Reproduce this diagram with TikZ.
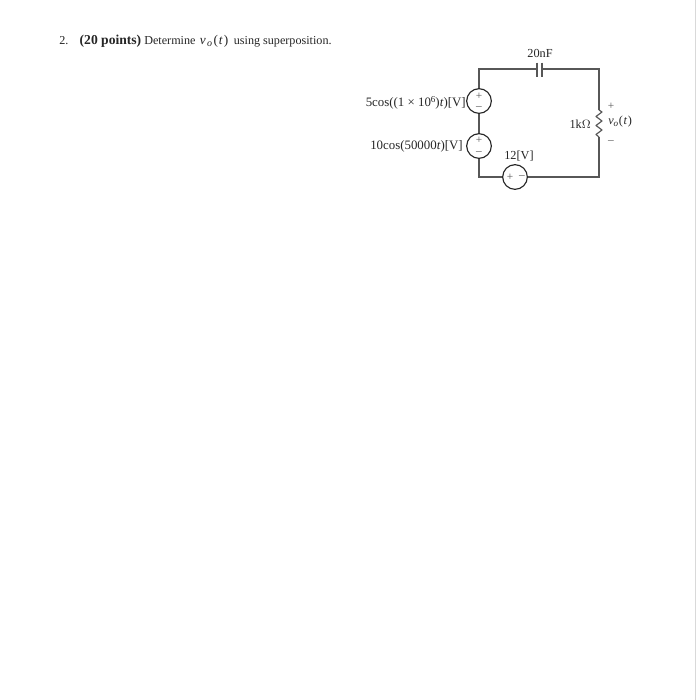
\documentclass[tikz,border=0pt]{standalone}
\usepackage{fontspec}
\setmainfont{Liberation Serif}
\definecolor{wire}{gray}{0.34}
\definecolor{txt}{gray}{0.15}
\newcommand{\mv}[1]{\textit{#1}}
\begin{document}
\begin{tikzpicture}[x=0.75pt,y=-0.75pt,
  wireline/.style={draw=wire,line width=0.85pt},
  source/.style={circle,draw=txt,line width=0.85pt,minimum size=18.5pt,inner sep=0pt,fill=white},
  label/.style={text=txt,inner sep=0pt,font=\fontsize{9.2pt}{11pt}\selectfont},
  longlabel/.style={label,font=\fontsize{9.65pt}{11pt}\selectfont},
  qtext/.style={text=txt,inner sep=0pt,font=\fontsize{9.1pt}{11pt}\selectfont},
  sign/.style={text=wire,inner sep=0pt,font=\fontsize{8.5pt}{9pt}\selectfont}]
\useasboundingbox (0,0) rectangle (696,700);
\fill[white] (0,0) rectangle (696,700);
\draw[gray!30,line width=0.5pt] (695,0) -- (695,700);
\node[qtext,anchor=base west] (q) at (59,44) {2.\hspace{8.5pt}{\fontsize{10.2pt}{11pt}\selectfont\textbf{(20 points)}} Determine \hspace{1pt}{\fontsize{10pt}{11pt}\selectfont\mv{v}\hspace{1pt}\raisebox{-1.5pt}{\fontsize{7.5pt}{8pt}\selectfont\mv{o}}\hspace{1.2pt}(\hspace{0.6pt}\mv{t}\hspace{0.6pt})}\hspace{2pt} using superposition.};
\coordinate (tl) at (479,69);
\coordinate (tr) at (599,69);
\coordinate (br) at (599,177);
\coordinate (bl) at (479,177);
\coordinate (c1) at (537,69);
\coordinate (c2) at (542,69);
\coordinate (r1) at (599,110);
\coordinate (r2) at (599,137);
\node[source] (s1) at (479,101) {};
\node[source] (s2) at (479,146) {};
\node[source] (s3) at (515,177) {};
\draw[wireline] (s1) -- (tl) -- (c1);
\draw[wireline] (c2) -- (tr) -- (r1);
\draw[wireline] (r2) -- (br) -- (s3);
\draw[wireline] (s3) -- (bl) -- (s2);
\draw[wireline] (s1) -- (s2);
\draw[wireline] (537,62.5) -- (537,77) (542,62.5) -- (542,77);
\draw[wireline,line join=round] (r1) -- (602,112) -- (596,116.5) -- (602,121) -- (596,125.5) -- (602,130) -- (596,134.5) -- (r2);
\node[sign] at (479,96) {+};
\node[sign] at (479,108.5) {–};
\node[sign] at (479,140.5) {+};
\node[sign] at (479,153) {–};
\node[sign] at (510,177) {+};
\node[sign] at (522,177.5) {–};
\node[sign] at (611,106) {+};
\node[sign] at (611,142) {–};
\node[label] (cl) at (540,53) {20nF};
\node[longlabel,anchor=east] (a) at (466,103) {5cos((1 × 10\raisebox{3pt}{\fontsize{6.8pt}{7pt}\selectfont 6})\mv{t})[V]};
\node[longlabel,anchor=east] (b) at (463,146) {10cos(50000\mv{t})[V]};
\node[label] (c) at (519,156) {12[V]};
\node[label,anchor=east] (d) at (591,124) {1k$\Omega$};
\node[label,anchor=west] (e) at (608,122) {\mv{v}\raisebox{-1.5pt}{\fontsize{6.8pt}{7pt}\selectfont\mv{o}}\hspace{0.5pt}(\hspace{0.5pt}\mv{t}\hspace{0.5pt})};
\end{tikzpicture}
\end{document}
